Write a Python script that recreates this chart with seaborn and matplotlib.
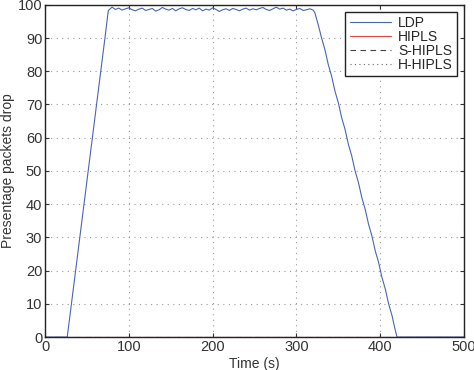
import matplotlib
matplotlib.use("Agg")
import matplotlib.pyplot as plt
import seaborn as sns
import pandas as pd

# ---- data ----
ldp_time = [0, 26.5, 31.5, 36.5, 41.5, 46.5, 51.5, 56.5, 61.5, 66.5, 71.5, 75.5,
            80, 84, 88, 92, 96, 100, 104, 108, 112, 116, 120, 124, 128, 132, 136,
            140, 144, 148, 152, 156, 160, 164, 168, 172, 176, 180, 184, 188, 192,
            196, 200, 204, 208, 212, 216, 220, 224, 228, 232, 236, 240, 244, 248,
            252, 256, 260, 264, 268, 272, 276, 280, 284, 288, 292, 296, 300, 304,
            308, 312, 316, 320,
            322, 326, 330, 334, 338, 342, 346, 350, 354, 358, 362, 366, 370, 374,
            378, 382, 386, 390, 394, 398, 402, 406, 410, 414, 418, 420, 500]
ldp_drop = [0, 0, 10, 20, 30, 40, 50, 60, 70, 80, 90, 98.3,
            99.3, 98.6, 99.0, 98.4, 98.8, 99.1, 98.5, 98.2, 98.7, 99.0, 98.3, 98.6,
            98.9, 98.1, 98.5, 99.2, 98.7, 98.4, 98.9, 98.2, 98.8, 99.1, 98.6, 98.3,
            98.9, 98.5, 99.0, 98.2, 98.7, 98.4, 99.1, 98.6, 98.0, 98.5, 98.8, 98.3,
            98.9, 98.6, 98.2, 98.7, 99.0, 98.4, 98.8, 98.5, 98.9, 99.2, 98.6, 98.3,
            98.8, 99.3, 98.7, 99.0, 98.4, 98.7, 98.2, 98.6, 98.9, 98.3, 98.5, 98.8,
            98.4,
            97.6, 94.0, 90.0, 86.5, 82.0, 78.5, 74.0, 70.5, 66.0, 62.5, 58.0, 54.5,
            50.0, 46.5, 42.0, 38.5, 34.0, 30.5, 26.0, 22.5, 18.0, 14.5, 10.0, 6.5,
            2.0, 0, 0]
flat_time = [0, 500]
hipls_drop = [0, 0]
shipls_drop = [0, 0]
hhipls_drop = [0, 0]

x_ticks = [0, 100, 200, 300, 400, 500]
y_ticks = [0, 10, 20, 30, 40, 50, 60, 70, 80, 90, 100]

sns.set_style("white")
plt.rcParams['font.family'] = ['Liberation Sans', 'DejaVu Sans']

fig = plt.figure(figsize=(4.74, 3.70), dpi=100)
ax = fig.add_axes([0.095, 0.089, 0.884, 0.898])

ldp_df = pd.DataFrame({"t": ldp_time, "v": ldp_drop})
flat_df = pd.DataFrame({"t": flat_time, "h": hipls_drop, "s": shipls_drop, "hh": hhipls_drop})

sns.lineplot(data=ldp_df, x="t", y="v", ax=ax, color="#4866b0", lw=0.8, label="LDP")
sns.lineplot(data=flat_df, x="t", y="hh", ax=ax, color="#666666", lw=0.8,
             linestyle=(0, (1, 3)), label="H-HIPLS")
sns.lineplot(data=flat_df, x="t", y="s", ax=ax, color="#444444", lw=0.8,
             linestyle=(0, (5, 4)), label="S-HIPLS")
sns.lineplot(data=flat_df, x="t", y="h", ax=ax, color="#e04848", lw=0.8, label="HIPLS")

ax.set_xlim(0, 500)
ax.set_ylim(0, 100)
ax.set_xticks(x_ticks)
ax.set_yticks(y_ticks)
ax.set_xlabel("Time (s)", fontsize=10, color="#333333", labelpad=2)
ax.set_ylabel("Presentage packets drop", fontsize=10, color="#333333", labelpad=2)
ax.tick_params(axis="both", labelsize=10.5, colors="#333333", direction="in", length=3,
               top=True, right=True, bottom=True, left=True, pad=2)
ax.grid(True, linestyle=(0, (1, 4)), color="#999999", lw=0.8)
for s in ax.spines.values():
    s.set_color("#222222")
    s.set_linewidth(1.0)

handles, labels = ax.get_legend_handles_labels()
order = ["LDP", "HIPLS", "S-HIPLS", "H-HIPLS"]
hmap = dict(zip(labels, handles))
leg = ax.legend([hmap[k] for k in order], order, loc="upper right", fontsize=10,
                frameon=True, fancybox=False, framealpha=1, edgecolor="#222222",
                borderaxespad=0.5, handlelength=3.0, handletextpad=0.5,
                labelspacing=0.0, borderpad=0.3)
leg.get_frame().set_linewidth(1.0)

fig.savefig("out.png", dpi=100)
